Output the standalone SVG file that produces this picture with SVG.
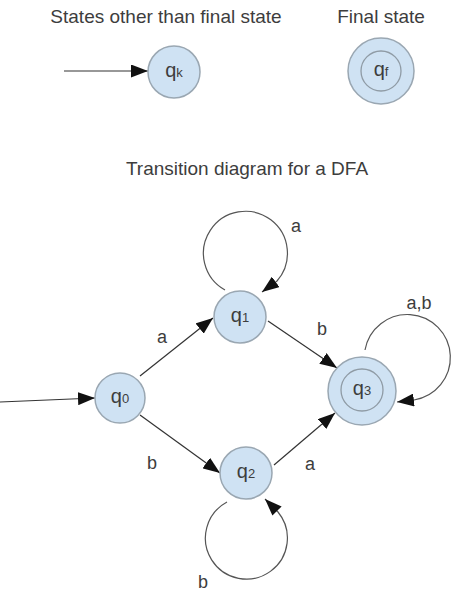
<svg xmlns="http://www.w3.org/2000/svg" width="474" height="594" viewBox="0 0 474 594">
  <style>
    .bg { fill: #ffffff; }
    .title { font-family: "Liberation Sans", Arial, sans-serif; font-size: 19px; fill: #3d3d3d; text-anchor: middle; }
    .lbl { font-family: "Liberation Sans", Arial, sans-serif; font-size: 18px; fill: #3d3d3d; text-anchor: middle; }
    .state { fill: #cfe2f3; stroke: #9aa7b2; stroke-width: 1.5; }
    .inner { fill: none; stroke: #8f9ba5; stroke-width: 1.3; }
    .nt { font-family: "Liberation Sans", Arial, sans-serif; font-size: 20px; fill: #3d3d3d; text-anchor: middle; }
    .sub { font-size: 13px; }
    .edge { fill: none; stroke: #333333; stroke-width: 1.2; marker-end: url(#arr); }
    .loop { fill: none; stroke: #555555; stroke-width: 1.2; marker-end: url(#arr); }
  </style>
  <defs>
    <marker id="arr" markerUnits="userSpaceOnUse" markerWidth="17" markerHeight="13" refX="17" refY="6.5" orient="auto">
      <path d="M0,0 L17,6.5 L0,13 z" fill="#111111"/>
    </marker>
  </defs>
  <rect class="bg" x="0" y="0" width="474" height="594"/>

  <!-- legend -->
  <text class="title" x="166" y="23">States other than final state</text>
  <text class="title" x="381" y="23">Final state</text>
  <text class="title" x="247" y="175">Transition diagram for a DFA</text>

  <g id="connectors">
    <path class="edge" d="M64,71 L148,71"/>
    <path class="edge" d="M0,402 L95,398"/>
    <path class="edge" d="M140,376 L213,318"/>
    <path class="edge" d="M268,321 L337,368"/>
    <path class="edge" d="M140,415 L220,473"/>
    <path class="edge" d="M274,465 L335,413"/>
    <path class="loop" d="M225,290 A42,42 0 1 1 277,281 L262,292"/>
    <path class="loop" d="M365,350 A43,43 0 1 1 414,400 L397,402"/>
    <path class="loop" d="M227,502 A41,41 0 1 0 278,512 L265,499"/>
  </g>

  <g id="edge-labels">
    <text class="lbl" x="296" y="232">a</text>
    <text class="lbl" x="419" y="309">a,b</text>
    <text class="lbl" x="162" y="343">a</text>
    <text class="lbl" x="322" y="335">b</text>
    <text class="lbl" x="152" y="469">b</text>
    <text class="lbl" x="310" y="470">a</text>
    <text class="lbl" x="203" y="588">b</text>
  </g>

  <g id="qk">
    <circle class="state" cx="174" cy="72" r="26"/>
    <text class="nt" x="174" y="77">q<tspan class="sub">k</tspan></text>
  </g>
  <g id="qf">
    <circle class="state" cx="381" cy="71" r="33"/>
    <circle class="inner" cx="381" cy="71" r="20"/>
    <text class="nt" x="381" y="76">q<tspan class="sub">f</tspan></text>
  </g>
  <g id="q0">
    <circle class="state" cx="120" cy="398" r="25"/>
    <text class="nt" x="120" y="403">q<tspan class="sub">0</tspan></text>
  </g>
  <g id="q1">
    <circle class="state" cx="240" cy="317" r="26"/>
    <text class="nt" x="240" y="322">q<tspan class="sub">1</tspan></text>
  </g>
  <g id="q2">
    <circle class="state" cx="246" cy="473" r="26"/>
    <text class="nt" x="246" y="478">q<tspan class="sub">2</tspan></text>
  </g>
  <g id="q3">
    <circle class="state" cx="362" cy="391" r="34"/>
    <circle class="inner" cx="362" cy="390" r="21"/>
    <text class="nt" x="362" y="395">q<tspan class="sub">3</tspan></text>
  </g>
</svg>
